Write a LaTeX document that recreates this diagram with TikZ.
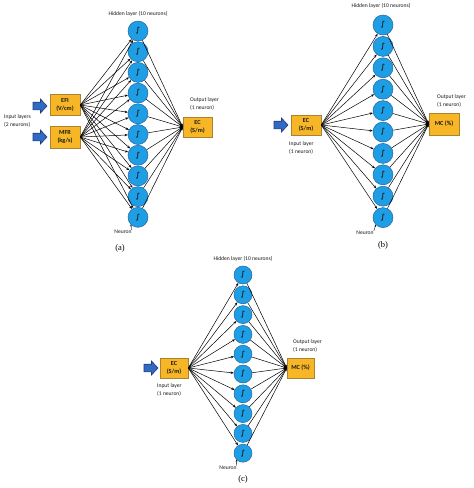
\documentclass[tikz,border=0pt]{standalone}
\usepackage{fontspec}
\setmainfont{Carlito}
\newfontfamily\symfont{DejaVu Sans}
\newfontfamily\capfont{Liberation Serif}
\usetikzlibrary{arrows.meta}
\definecolor{neufill}{RGB}{30,158,228}
\definecolor{neudraw}{RGB}{40,100,160}
\definecolor{boxfill}{RGB}{246,182,38}
\definecolor{boxdraw}{RGB}{170,130,50}
\definecolor{blk}{RGB}{50,105,195}
\definecolor{blkdraw}{RGB}{30,60,125}
\tikzset{
  neuron/.style={circle,fill=neufill,draw=neudraw,line width=0.5pt,minimum size=20pt,inner sep=0pt,font=\symfont\fontsize{7}{7}\selectfont\bfseries,text=black!90},
  neuronsm/.style={neuron,minimum size=18pt},
  iobox/.style={rectangle,fill=boxfill,draw=boxdraw,line width=0.5pt,inner sep=0pt,align=center,font=\fontsize{6.2}{7.8}\selectfont\bfseries,text=black!90},
  lbl/.style={font=\fontsize{5.6}{8}\selectfont,text=black!90,inner sep=0pt},
  captext/.style={font=\capfont\fontsize{8.5}{8.5}\selectfont,inner sep=0pt},
  conn/.style={-{Stealth[length=3.2pt,width=2.4pt]},line width=0.5pt,draw=black},
  blockarrow/.style={fill=blk,draw=blkdraw,line width=0.6pt,line join=miter},
  inarrow/.pic={\path[blockarrow] (-7,-3.8) -- (0.5,-3.8) -- (0.5,-7) -- (7,0) -- (0.5,7) -- (0.5,3.8) -- (-7,3.8) -- cycle;}
}
\begin{document}
\begin{tikzpicture}[x=1pt,y=-1pt]
\useasboundingbox (0,0) rectangle (474,488);
% ---------------- Panel (a)
\foreach \i in {1,...,10}{
  \node[neuron] (ah\i) at (138,{31+20.7*(\i-1)}) {∫};
}
\node[iobox,minimum width=30pt,minimum height=21pt] (aefi) at (65,105) {EFI\\(V/cm)};
\node[iobox,minimum width=30pt,minimum height=22pt] (amfr) at (65,137) {MFR\\(kg/s)};
\node[iobox,minimum width=29pt,minimum height=20pt] (aec) at (197.5,127) {EC\\(S/m)};
\pic (aar1) at (40,106) {inarrow};
\pic (aar2) at (40,137) {inarrow};
\foreach \i in {1,...,10}{
  \draw[conn] (aefi.east) -- (ah\i);
  \draw[conn] (amfr.east) -- (ah\i);
  \draw[conn] (ah\i) -- (aec.west);
}
\node[lbl,anchor=west,align=left] (ain) at (4,120.5) {Input layers\\(2 neurons)};
\node[lbl,anchor=west,align=left] (aout) at (190,104) {Output layer\\(1 neuron)};
\node[lbl] (ahid) at (138,14) {Hidden layer (10 neurons)};
\node[lbl] (aneu) at (123,232) {Neuron};
\draw[-{Stealth[length=2pt,width=1.6pt]},line width=0.35pt] (aneu.north east) -- (ah10.south west);
\node[captext] (acap) at (120,248) {(a)};
% ---------------- Panel (b)
\foreach \i in {1,...,10}{
  \node[neuron] (bh\i) at (383,{25+21.4*(\i-1)}) {∫};
}
\node[iobox,minimum width=30pt,minimum height=20pt] (bec) at (306,125) {EC\\(S/m)};
\node[iobox,minimum width=30pt,minimum height=22pt] (bmc) at (444,124) {MC (\%)};
\pic (bar) at (281,125) {inarrow};
\foreach \i in {1,...,10}{
  \draw[conn] (bec.east) -- (bh\i);
  \draw[conn] (bh\i) -- (bmc.west);
}
\node[lbl,anchor=west,align=left] (bin) at (289,147.5) {Input layer\\(1 neuron)};
\node[lbl,anchor=west,align=left] (bout) at (437,101) {Output layer\\(1 neuron)};
\node[lbl] (bhid) at (381,6) {Hidden layer (10 neurons)};
\node[lbl] (bneu) at (365,233) {Neuron};
\draw[-{Stealth[length=2pt,width=1.6pt]},line width=0.35pt] (bneu.north east) -- (bh10.south west);
\node[captext] (bcap) at (383,245) {(b)};
% ---------------- Panel (c)
\foreach \i in {1,...,10}{
  \node[neuronsm] (ch\i) at (243,{275+19.8*(\i-1)}) {∫};
}
\node[iobox,minimum width=28pt,minimum height=20pt] (cec) at (174,368) {EC\\(S/m)};
\node[iobox,minimum width=27pt,minimum height=20pt] (cmc) at (300.5,368) {MC (\%)};
\pic (car) at (151,368) {inarrow};
\foreach \i in {1,...,10}{
  \draw[conn] (cec.east) -- (ch\i);
  \draw[conn] (ch\i) -- (cmc.west);
}
\node[lbl,anchor=west,align=left] (cin) at (157,389.5) {Input layer\\(1 neuron)};
\node[lbl,anchor=west,align=left] (cout) at (293,345.5) {Output layer\\(1 neuron)};
\node[lbl] (chid) at (243,259) {Hidden layer (10 neurons)};
\node[lbl] (cneu) at (228,468) {Neuron};
\draw[-{Stealth[length=2pt,width=1.6pt]},line width=0.35pt] (cneu.north east) -- (ch10.south west);
\node[captext] (ccap) at (243,479) {(c)};
\end{tikzpicture}
\end{document}
